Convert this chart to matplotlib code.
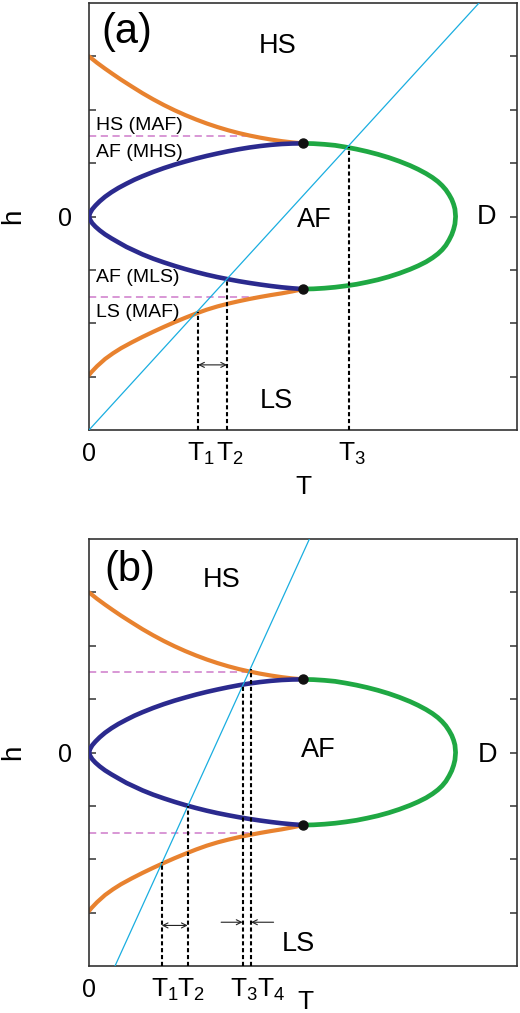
import matplotlib
matplotlib.use("Agg")
import matplotlib.pyplot as plt
from matplotlib.transforms import blended_transform_factory

plt.rcParams['font.family'] = ['Liberation Sans', 'DejaVu Sans']
plt.rcParams['mathtext.default'] = 'regular'
plt.rcParams['mathtext.fontset'] = 'custom'
plt.rcParams['mathtext.rm'] = 'Liberation Sans'
plt.rcParams['mathtext.it'] = 'Liberation Sans'

# ---------------- data ----------------
# upper orange boundary
orange_up_T = [0, .15, .3, .45, .6, .8, 1.0, 1.2, 1.4, 1.6, 1.8, 2.0, 2.2, 2.4, 2.6, 2.8,
               3.0, 3.2, 3.4, 3.6, 3.8, 4.0]
orange_up_h = [3.0, 2.88, 2.77, 2.665, 2.563, 2.435, 2.31, 2.195, 2.088, 1.99, 1.90, 1.818,
               1.743, 1.676, 1.616, 1.563, 1.517, 1.477, 1.442, 1.412, 1.388, 1.37]
# lower orange boundary
orange_lo_T = [0, .05, .15, .3, .45, .6, .8, 1.0, 1.2, 1.4, 1.6, 1.8, 2.0, 2.2, 2.4, 2.6, 2.8,
               3.0, 3.2, 3.4, 3.6, 3.8, 4.0]
orange_lo_h = [-2.97, -2.91, -2.805, -2.67, -2.562, -2.467, -2.358, -2.256, -2.16, -2.068,
               -1.98, -1.897, -1.818, -1.746, -1.685, -1.633, -1.587, -1.545, -1.507,
               -1.472, -1.44, -1.403, -1.36]
# blue boundaries
blue_up_T = [0, .02, .06, .12, .2, .3, .42, .55, .7, .85, 1.0, 1.2, 1.4, 1.6, 1.8, 2.0, 2.2,
             2.4, 2.6, 2.8, 3.0, 3.2, 3.4, 3.6, 3.8, 4.0]
blue_up_h = [0, .065, .135, .205, .285, .37, .455, .535, .615, .69, .755, .835, .907, .972,
             1.03, 1.085, 1.135, 1.18, 1.222, 1.26, 1.293, 1.32, 1.342, 1.358, 1.367, 1.37]
blue_lo_T = [0, .02, .06, .12, .2, .3, .42, .55, .7, .85, 1.0, 1.2, 1.4, 1.6, 1.8, 2.0, 2.2,
             2.4, 2.6, 2.8, 3.0, 3.2, 3.4, 3.6, 3.8, 4.0]
blue_lo_h = [0, -.06, -.125, -.19, -.26, -.335, -.41, -.485, -.57, -.64, -.71, -.79, -.86,
             -.925, -.985, -1.04, -1.09, -1.135, -1.175, -1.212, -1.245, -1.275, -1.302,
             -1.326, -1.345, -1.36]
# green boundary
green_T = [4.0, 4.2, 4.4, 4.6, 4.8, 5.0, 5.2, 5.4, 5.6, 5.8, 6.0, 6.15, 6.3, 6.42, 6.52, 6.6,
           6.67, 6.73, 6.78, 6.815, 6.84, 6.852,
           6.84, 6.815, 6.78, 6.73, 6.67, 6.6, 6.52, 6.42, 6.3, 6.15, 6.0, 5.8, 5.6, 5.4,
           5.2, 5.0, 4.8, 4.6, 4.4, 4.2, 4.0]
green_h = [1.37, 1.365, 1.352, 1.333, 1.30, 1.262, 1.217, 1.165, 1.105, 1.035, 0.955, 0.885,
           0.805, 0.73, 0.655, 0.58, 0.50, 0.41, 0.32, 0.23, 0.14, 0.0,
           -0.14, -0.24, -0.34, -0.44, -0.54, -0.625, -0.70, -0.775, -0.85, -0.925, -0.99,
           -1.065, -1.13, -1.185, -1.23, -1.27, -1.30, -1.325, -1.343, -1.355, -1.36]
# tricritical points
dot_T = [4.0, 4.0]
dot_h = [1.37, -1.36]
# metastable limits (pink dashed)
pink_h = [1.5, -1.5]
pink_end_a = [3.1, 3.3]
pink_end_b = [3.05, 3.1]

# cyan paths
cyan_a_T = [0.0, 7.29]
cyan_a_h = [-4.0, 4.0]
cyan_b_T = [0.486, 4.12]
cyan_b_h = [-4.0, 4.0]

# transition temperatures and heights of the dashed markers
Ta = [2.04, 2.58, 4.86]
Ta_top = [-1.78, -1.18, 1.31]
Ta_labels = ['$T_1$', '$T_2$', '$T_3$']
Tb = [1.36, 1.845, 2.87, 3.03]
Tb_top = [-2.05, -1.0, 1.26, 1.56]
Tb_labels = ['$T_1$', '$T_2$', '$T_3$', '$T_4$']

h_ticks = [-3, -2, -1, 0, 1, 2, 3]
h_ticklabels = ['', '', '', '0', '', '', '']

# ---------------- colours ----------------
C_OR = '#E8822F'
C_BL = '#2B2A8E'
C_GR = '#1FA843'
C_CY = '#1AAEE0'
C_PK = '#D68FD2'

W, H = 520, 1013
fig = plt.figure(figsize=(W / 100, H / 100), dpi=100)

ax_a = fig.add_axes([89 / W, 1 - 430 / H, 428 / W, 427 / H])
ax_b = fig.add_axes([89 / W, 1 - 966 / H, 428 / W, 427 / H])


def base(ax, cyT, cyh, pink_end):
    ax.set_xlim(0, 8.0)
    ax.set_ylim(-4, 4)
    for s in ax.spines.values():
        s.set_linewidth(1.2)
        s.set_color('#333333')
    ax.set_yticks(h_ticks)
    ax.set_yticklabels(h_ticklabels)
    ax.tick_params(axis='y', direction='in', left=True, right=True, length=5,
                   width=1.1, color='#333333', pad=12, labelsize=18)
    ax.set_xticks([])
    for ph, pe in zip(pink_h, pink_end):
        ax.plot([0, pe], [ph, ph], color=C_PK, lw=1.3, dashes=(4, 2.5), zorder=1)
    kw = dict(solid_capstyle='round', solid_joinstyle='round')
    ax.plot(orange_up_T, orange_up_h, color=C_OR, lw=3.0, zorder=2, **kw)
    ax.plot(orange_lo_T, orange_lo_h, color=C_OR, lw=3.0, zorder=2, **kw)
    ax.plot(blue_up_T, blue_up_h, color=C_BL, lw=3.3, zorder=3, **kw)
    ax.plot(blue_lo_T, blue_lo_h, color=C_BL, lw=3.3, zorder=3, **kw)
    ax.plot(green_T, green_h, color=C_GR, lw=3.4, zorder=3, **kw)
    ax.plot(cyT, cyh, color=C_CY, lw=0.9, zorder=4)
    ax.plot(dot_T, dot_h, 'o', color='#111111', ms=6.5, zorder=6)
    ax.text(-0.178, 0.5, 'h', transform=ax.transAxes, rotation=90,
            ha='center', va='center', fontsize=20)
    trans = blended_transform_factory(ax.transData, ax.transAxes)
    ax.text(0, -0.056, '0', transform=trans, ha='center', va='center', fontsize=18)
    return trans


def vlines(ax, Ts, tops):
    for t, top in zip(Ts, tops):
        ax.plot([t, t], [-4, top], color='black', lw=1.5, linestyle=(0, (2.0, 1.3)), zorder=5)


def arrow(ax, x0, x1, y, style):
    ax.annotate('', xy=(x1, y), xytext=(x0, y),
                arrowprops=dict(arrowstyle=style, lw=0.8, color='#222222',
                                shrinkA=0, shrinkB=0, mutation_scale=9), zorder=6)


# ---------------- panel (a) ----------------
tr = base(ax_a, cyan_a_T, cyan_a_h, pink_end_a)
vlines(ax_a, Ta, Ta_top)
arrow(ax_a, Ta[0], Ta[1], -2.78, '<->')
for t, lab in zip(Ta, Ta_labels):
    ax_a.text(t + 0.05, -0.056, lab, transform=tr, ha='center', va='center', fontsize=19)
ax_a.text(4.0, -0.134, 'T', transform=tr, ha='center', va='center', fontsize=19)
ax_a.text(0.71, 3.45, '(a)', ha='center', va='center', fontsize=30)
ax_a.text(3.53, 3.2, 'HS', ha='center', va='center', fontsize=19.5)
ax_a.text(4.22, -0.07, 'AF', ha='center', va='center', fontsize=19.5)
ax_a.text(7.43, 0.0, 'D', ha='center', va='center', fontsize=19.5)
ax_a.text(3.5, -3.45, 'LS', ha='center', va='center', fontsize=19.5)
ax_a.text(0.14, 1.71, 'HS (MAF)', ha='left', va='center', fontsize=14)
ax_a.text(0.14, 1.19, 'AF (MHS)', ha='left', va='center', fontsize=14)
ax_a.text(0.14, -1.14, 'AF (MLS)', ha='left', va='center', fontsize=14)
ax_a.text(0.14, -1.80, 'LS (MAF)', ha='left', va='center', fontsize=14)

# ---------------- panel (b) ----------------
tr = base(ax_b, cyan_b_T, cyan_b_h, pink_end_b)
vlines(ax_b, Tb, Tb_top)
arrow(ax_b, Tb[0], Tb[1], -3.24, '<->')
arrow(ax_b, Tb[2] - 0.4, Tb[2], -3.18, '->')
arrow(ax_b, Tb[3] + 0.42, Tb[3], -3.18, '->')
label_shift = [0.05, 0.05, 0.02, 0.37]
for t, lab, sh in zip(Tb, Tb_labels, label_shift):
    ax_b.text(t + sh, -0.056, lab, transform=tr, ha='center', va='center', fontsize=19)
ax_b.text(4.04, -0.084, 'T', transform=tr, ha='center', va='center', fontsize=19)
ax_b.text(0.77, 3.42, '(b)', ha='center', va='center', fontsize=30)
ax_b.text(2.48, 3.23, 'HS', ha='center', va='center', fontsize=19.5)
ax_b.text(4.28, 0.04, 'AF', ha='center', va='center', fontsize=19.5)
ax_b.text(7.45, -0.05, 'D', ha='center', va='center', fontsize=19.5)
ax_b.text(3.91, -3.58, 'LS', ha='center', va='center', fontsize=19.5)

fig.savefig('out.png', dpi=100)
